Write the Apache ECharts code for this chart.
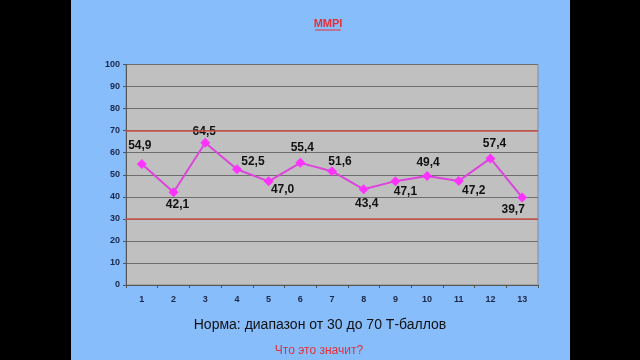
<!DOCTYPE html>
<html>
<head>
<meta charset="utf-8">
<script src="https://cdn.jsdelivr.net/npm/echarts@6/dist/echarts.min.js"></script>
<style>html,body{margin:0;padding:0;background:#000;}#c{width:640px;height:360px;}</style>
</head>
<body>
<div id="c"></div>
<script>
var categories = ['1','2','3','4','5','6','7','8','9','10','11','12','13'];
var values = [54.9, 42.1, 64.5, 52.5, 47.0, 55.4, 51.6, 43.4, 47.1, 49.4, 47.2, 57.4, 39.7];
var normLines = [30, 70];
var titleText = 'MMPI';
var noteText = 'Норма: диапазон от 30 до 70 Т-баллов';
var linkText = 'Что это значит?';

// label layout (style, not data)
var labelOffsets = [[-2,-18],[4,13],[-1,-11],[16,-8],[14,8],[2,-15],[8,-10],[3,14],[10,11],[1,-13],[15,10],[4,-15],[-9,12]];

var chart = echarts.init(document.getElementById('c'), null, {renderer:'canvas'});
var font = 'Liberation Sans, Arial, sans-serif';
var dataItems = values.map(function(v, i){
  return {value: v, label: {offset: labelOffsets[i]}};
});
var gridGray = '#6e6e6e', normRed = '#cc5048';
chart.setOption({
  animation: false,
  backgroundColor: '#000',
  graphic: [
    {type:'rect', z:-10, shape:{x:71, y:0, width:499, height:360}, style:{fill:'#88bdfc'}},
    {type:'text', z:10, x:328, y:24, style:{text:titleText, fill:'#e0303a', font:'bold 11px ' + font, textAlign:'center', textVerticalAlign:'middle'}},
    {type:'line', z:10, shape:{x1:315, y1:30, x2:341, y2:30}, style:{stroke:'#e0303a', lineWidth:1}},
    {type:'text', z:10, x:320, y:325, style:{text:noteText, fill:'#111', font:'14px ' + font, textAlign:'center', textVerticalAlign:'middle'}},
    {type:'text', z:10, x:319, y:351, style:{text:linkText, fill:'#e0303a', font:'12px ' + font, textAlign:'center', textVerticalAlign:'middle'}}
  ],
  grid: {left:126, right:102, top:64.5, bottom:75, show:true, backgroundColor:'#c0c0c0', borderColor:'#8a8a8a', borderWidth:1},
  xAxis: {
    type:'category', data:categories, boundaryGap:true,
    axisLine:{lineStyle:{color:'#555', width:1}},
    axisTick:{show:true, inside:false, length:3, lineStyle:{color:'#555'}},
    axisLabel:{color:'#1a2748', fontSize:9, fontWeight:'bold', fontFamily:font, margin:10}
  },
  yAxis: {
    type:'value', min:0, max:100, interval:10,
    axisLine:{show:true, lineStyle:{color:'#555', width:1}},
    axisTick:{show:true, length:3, lineStyle:{color:'#555'}},
    axisLabel:{color:'#1a2748', fontSize:9, fontWeight:'bold', fontFamily:font, margin:6},
    splitLine:{show:true, lineStyle:{color:gridGray, width:1}}
  },
  series: [{
    type:'line', data:dataItems,
    symbol:'diamond', symbolSize:10,
    lineStyle:{color:'#dd44dd', width:2},
    itemStyle:{color:'#ff33ff'},
    label:{show:true, position:'inside', color:'#111', fontSize:12, fontWeight:'bold', fontFamily:font,
      formatter:function(p){ return p.value.toFixed(1).replace('.', ','); }},
    markLine:{silent:true, symbol:['none','none'], precision:1, label:{show:false},
      lineStyle:{color:normRed, width:1.5, type:'solid'},
      data: normLines.map(function(v){ return [{coord:[0, v], x:126}, {coord:[12, v], x:538}]; })}
  }]
});
</script>
</body>
</html>
